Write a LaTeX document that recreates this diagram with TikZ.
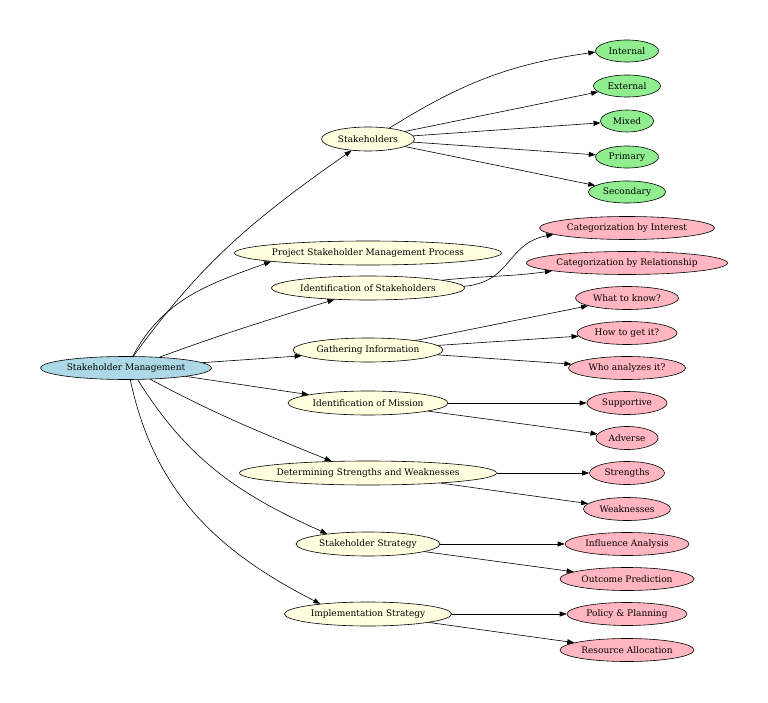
\documentclass[tikz,border=0pt]{standalone}
\usepackage{fontspec}
\setmainfont{DejaVu Serif}
\usepackage{xcolor}
\usepackage{tikz}
\usetikzlibrary{shapes,arrows.meta,positioning}
\definecolor{rootblue}{HTML}{ADD8E6}
\definecolor{midcream}{HTML}{FFFFE0}
\definecolor{grpgreen}{HTML}{90EE90}
\definecolor{leafpink}{HTML}{FFB6C1}

\begin{document}
\begin{tikzpicture}[x=1pt,y=1pt,
    font=\fontsize{9}{10.5}\selectfont,
    box/.style={ellipse, draw, line width=0.6pt, inner sep=0pt, inner xsep=-5pt, minimum height=23pt},
    root/.style={box, fill=rootblue},
    mid/.style={box, fill=midcream, minimum height=24pt},
    grp/.style={box, fill=grpgreen, minimum height=22pt},
    leaf/.style={box, fill=leafpink},
    edge/.style={-{Triangle[length=7pt,width=5pt]}, line width=0.6pt}]
    \useasboundingbox (0,0) rectangle (768,-703);
    % root
    \node[root, minimum width=171pt] (sm) at (126,-368) {Stakeholder Management};
    % second level
    \node[mid, minimum width=93pt] (stk) at (368,-139) {Stakeholders};
    \node[mid, minimum width=267pt] (psmp) at (368,-253) {Project Stakeholder Management Process};
    \node[mid, minimum width=193pt] (idst) at (368,-288) {Identification of Stakeholders};
    \node[mid, minimum width=150pt] (gi) at (368,-350) {Gathering Information};
    \node[mid, minimum width=160pt] (idm) at (368,-403) {Identification of Mission};
    \node[mid, minimum width=257pt] (dsw) at (368,-473) {Determining Strengths and Weaknesses};
    \node[mid, minimum width=144pt] (ss) at (368,-544) {Stakeholder Strategy};
    \node[mid, minimum width=167pt] (is) at (368,-614) {Implementation Strategy};
    % stakeholder types
    \node[grp, minimum width=63pt] (int) at (627,-51) {Internal};
    \node[grp, minimum width=67pt] (ext) at (627,-86) {External};
    \node[grp, minimum width=53pt] (mix) at (627,-121) {Mixed};
    \node[grp, minimum width=63pt] (pri) at (627,-157) {Primary};
    \node[grp, minimum width=77pt] (sec) at (627,-192) {Secondary};
    % leaves
    \node[leaf, minimum width=175pt] (cati) at (627,-228) {Categorization by Interest};
    \node[leaf, minimum width=201pt] (catr) at (627,-263) {Categorization by Relationship};
    \node[leaf, minimum width=103pt] (wtk) at (627,-298) {What to know?};
    \node[leaf, minimum width=100pt] (how) at (627,-333) {How to get it?};
    \node[leaf, minimum width=117pt] (who) at (627,-368) {Who analyzes it?};
    \node[leaf, minimum width=80pt] (sup) at (627,-403) {Supportive};
    \node[leaf, minimum width=62pt] (adv) at (627,-438) {Adverse};
    \node[leaf, minimum width=75pt] (str) at (627,-473) {Strengths};
    \node[leaf, minimum width=87pt] (weak) at (627,-509) {Weaknesses};
    \node[leaf, minimum width=124pt] (infl) at (627,-544) {Influence Analysis};
    \node[leaf, minimum width=134pt] (outc) at (627,-579) {Outcome Prediction};
    \node[leaf, minimum width=120pt] (pol) at (627,-614) {Policy \& Planning};
    \node[leaf, minimum width=134pt] (res) at (627,-650) {Resource Allocation};

    % root to second level
    \draw[edge] (sm.58) to[out=54,in=215] (stk.215);
    \draw[edge] (sm.60) to[out=62,in=200] (psmp.185);
    \draw[edge] (sm.18) to[out=20,in=197] (idst.199);
    \draw[edge] (sm.4) -- (gi.185);
    \draw[edge] (sm.-8) -- (idm.172);
    \draw[edge] (sm.-25) to[out=-28,in=158] (dsw.162);
    \draw[edge] (sm.-45) to[out=-58,in=156] (ss.166);
    \draw[edge] (sm.-70) to[out=-78,in=153] (is.168);
    % stakeholders
    \draw[edge] (stk.27) to[out=32,in=188] (int.182);
    \draw[edge] (stk) -- (ext);
    \draw[edge] (stk) -- (mix);
    \draw[edge] (stk) -- (pri);
    \draw[edge] (stk) -- (sec);
    % identification
    \draw[edge] (idst.1) to[out=5,in=191,looseness=1.2] (cati.185);
    \draw[edge] (idst.6) to[out=6,in=188] (catr.186);
    % information
    \draw[edge] (gi) -- (wtk);
    \draw[edge] (gi) -- (how);
    \draw[edge] (gi) -- (who);
    % mission
    \draw[edge] (idm) -- (sup);
    \draw[edge] (idm) -- (adv);
    % strengths and weaknesses
    \draw[edge] (dsw) -- (str);
    \draw[edge] (dsw) -- (weak);
    % strategy
    \draw[edge] (ss) -- (infl);
    \draw[edge] (ss) -- (outc);
    \draw[edge] (is) -- (pol);
    \draw[edge] (is) -- (res);
\end{tikzpicture}
\end{document}
